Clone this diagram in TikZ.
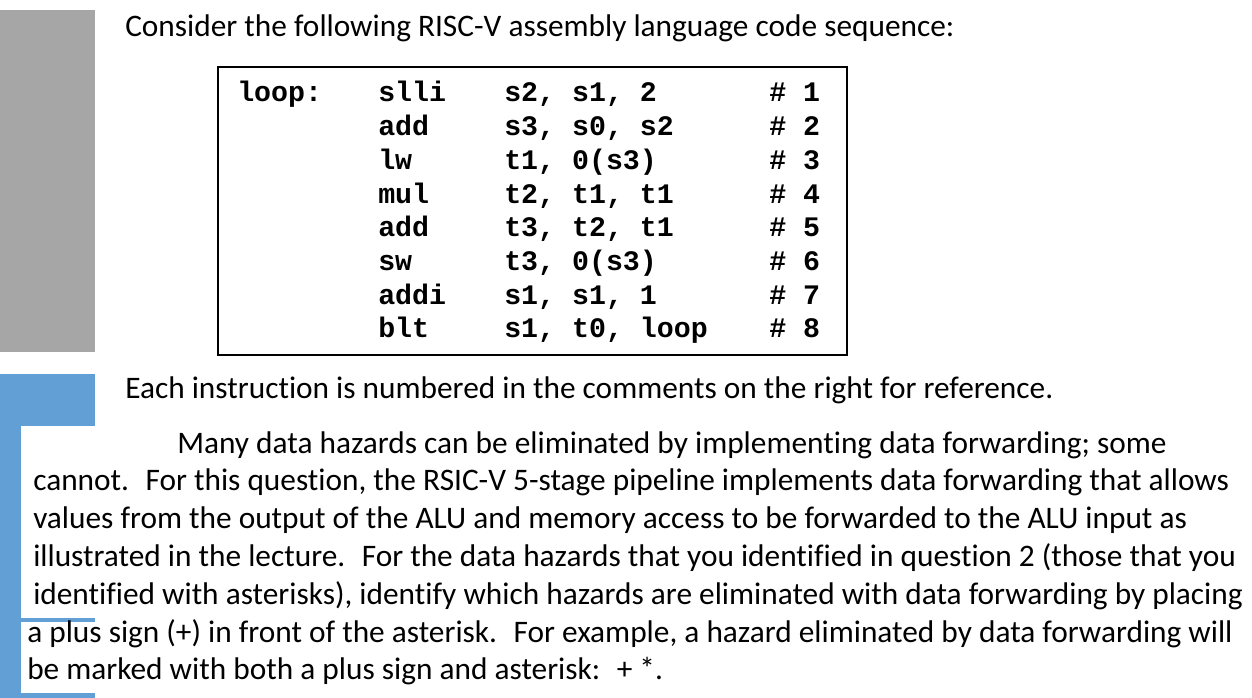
\documentclass[tikz,border=0pt]{standalone}
\usepackage{fontspec}
\setmainfont{Carlito}[Ligatures={NoCommon}]
\newfontfamily\codefont{Liberation Mono}
\usetikzlibrary{positioning}
\definecolor{bargray}{HTML}{A6A6A6}
\definecolor{barblue}{HTML}{629FD4}

\begin{document}
\begin{tikzpicture}[
        x=0.75pt, y=-0.75pt,
        txt/.style={anchor=base west, inner sep=0pt, font=\fontsize{23.5pt}{28pt}\selectfont},
        code/.style={anchor=base west, inner sep=0pt, font=\fontsize{21.2pt}{25pt}\selectfont\codefont\bfseries},
        codebox/.style={draw, line width=1.5pt, inner sep=0pt, minimum width=472pt, minimum height=216pt}
    ]
    \useasboundingbox (0,0) rectangle (1252,698);

    \fill[bargray] (0,10) rectangle (95,352);
    \fill[barblue] (0,374) rectangle (95,426);
    \fill[barblue] (0,426) rectangle (21,698);
    \fill[barblue] (21,618) rectangle (95,622);
    \fill[barblue] (21,693) rectangle (95,698);

    \node[txt] (intro) at (125,37) {Consider the following RISC-V assembly language code sequence:};

    \node[codebox] (box) at (532.5,211) {};
    \node[code] (lbl) at (237,102) {loop:};
    \foreach \op/\args/\n [count=\i] in {slli/{s2, s1, 2}/1, add/{s3, s0, s2}/2, lw/{t1, 0(s3)}/3,
            mul/{t2, t1, t1}/4, add/{t3, t2, t1}/5, sw/{t3, 0(s3)}/6, addi/{s1, s1, 1}/7, blt/{s1, t0, loop}/8} {
        \node[code] (op\i) at (378,{102+33.7*(\i-1)}) {\op};
        \node[code] (arg\i) at (504,{102+33.7*(\i-1)}) {\args};
        \node[code] (num\i) at (769,{102+33.7*(\i-1)}) {\# \n};
    }

    \node[txt] (note) at (125,398) {Each instruction is numbered in the comments on the right for reference.};

    \node[txt] (p1) at (177,453) {Many data hazards can be eliminated by implementing data forwarding; some};
    \node[txt] (p2) at (33,490.8) {cannot.~ For this question, the RSIC-V 5-stage pipeline implements data forwarding that allows};
    \node[txt] (p3) at (33,528.6) {values from the output of the ALU and memory access to be forwarded to the ALU input as};
    \node[txt] (p4) at (33,566.4) {illustrated in the lecture.~ For the data hazards that you identified in question 2 (those that you};
    \node[txt] (p5) at (33,604.2) {identified with asterisks), identify which hazards are eliminated with data forwarding by placing};
    \node[txt] (p6) at (27,642) {a plus sign (+) in front of the asterisk.~ For example, a hazard eliminated by data forwarding will};
    \node[txt] (p7) at (27,679.8) {be marked with both a plus sign and asterisk:~ + *.};

\end{tikzpicture}
\end{document}
